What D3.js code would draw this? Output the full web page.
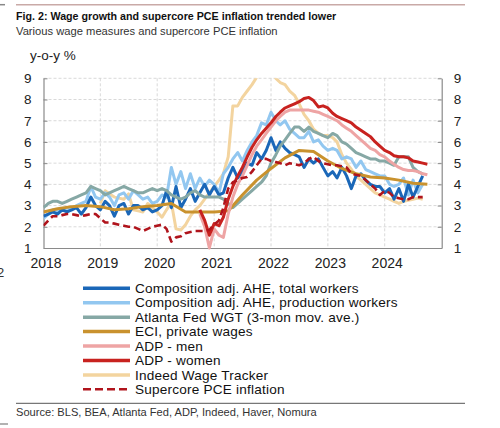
<!DOCTYPE html>
<html>
<head>
<meta charset="utf-8">
<script src="https://cdn.jsdelivr.net/npm/d3@7"></script>
<style>
  body { margin: 0; background: #fff; }
  svg { display: block; font-family: Arial, "Liberation Sans", sans-serif; }
</style>
</head>
<body>
<div id="chart"></div>
<script>
"use strict";

// monthly, Jan 2018 - Sep 2024
var aheTotal = [
	2.5, 2.6, 2.7, 2.6, 2.8, 2.7, 2.8, 2.9, 2.6, 2.9, 3.4, 3.0,
	2.8, 3.2, 3.0, 2.5, 3.0, 3.1, 2.6, 3.0, 3.0, 2.8, 2.9, 2.7,
	2.8, 3.0, 3.7, 2.9, 3.9, 2.9, 3.3, 3.8, 3.2, 3.6, 4.0, 3.5,
	3.9, 3.5, 3.6, 4.3, 4.8, 4.3, 4.6, 5.0, 4.9, 5.5, 5.2, 5.6,
	6.2, 5.6, 6.0, 5.7, 5.5, 5.4, 5.3, 4.8, 5.2, 5.0, 5.2, 4.8,
	4.4, 4.6, 4.3, 4.8, 4.4, 3.8, 4.4, 4.5, 4.2, 4.0, 3.9, 3.9,
	3.6, 3.8, 3.3, 3.8, 3.2, 4.0, 3.4, 3.9, 4.4
];
var aheProd = [
	2.4, 2.6, 2.8, 2.7, 2.8, 2.9, 2.8, 3.0, 3.1, 3.2, 3.9, 3.4,
	3.3, 3.6, 3.4, 3.0, 3.5, 3.6, 3.3, 3.7, 3.5, 3.3, 3.4, 3.1,
	3.2, 3.5, 3.4, 4.8, 4.0, 4.6, 3.8, 4.5, 3.8, 4.3, 3.9, 4.2,
	4.0, 3.6, 4.5, 4.8, 5.2, 5.5, 5.1, 5.6, 6.0, 6.3, 6.9, 6.8,
	7.4, 7.0, 6.8, 7.0, 6.6, 6.4, 6.2, 6.2, 6.5, 6.0, 6.1, 5.8,
	5.6, 5.7, 5.6, 5.2, 5.3, 5.2, 4.8, 5.1, 4.7, 4.6, 4.5, 4.4,
	4.4, 4.0, 3.9, 4.0, 4.3, 3.5, 4.2, 3.6, 4.0
];
var atlantaWgt = [
	2.9, 3.1, 3.2, 3.2, 3.1, 3.2, 3.3, 3.4, 3.5, 3.6, 3.9, 3.8,
	3.7, 3.5, 3.6, 3.7, 3.8, 3.9, 3.8, 3.7, 3.6, 3.6, 3.7, 3.8,
	3.7, 3.8, 3.7, 3.5, 3.4, 3.3, 3.4, 3.6, 3.7, 3.5, 3.4, 3.4,
	3.4, 3.4, 3.3, 3.1, 2.9, 3.1, 3.3, 3.5, 3.7, 3.9, 4.1, 4.4,
	5.0, 5.4, 5.8, 6.1, 6.4, 6.7, 6.7, 6.5, 6.7, 6.5, 6.4, 6.3,
	6.2, 6.4, 6.3, 6.0, 5.9, 5.7, 5.5, 5.4, 5.3, 5.2, 5.2, 5.1,
	5.1, 5.0, 4.9, 5.3, 5.3, 5.3, 4.8, 4.6, 4.5
];
// quarterly, Jan 2018 - Oct 2024
var eciPrivate = [
	2.7, 2.85, 2.95, 3.0, 2.95, 2.8, 2.85, 2.95,
	3.0, 3.1, 2.7, 2.7, 2.7, 2.75, 3.5, 4.2,
	4.75, 5.25, 5.6, 5.55, 5.1, 4.75, 4.5, 4.35,
	4.3, 4.2, 4.05, 4.0
];
// monthly, Oct 2020 - Oct 2024
var adpMen = [
	2.6, 2.0, 1.0,
	1.9, 1.6, 1.5, 2.6, 3.4, 4.0, 4.4, 4.9, 5.4, 5.8, 6.1, 6.4,
	6.7, 7.0, 7.2, 7.4, 7.5, 7.5, 7.5, 7.5, 7.5, 7.45, 7.4, 7.3,
	7.2, 7.1, 7.0, 6.8, 6.65, 6.5, 6.3, 6.1, 5.9, 5.7, 5.6, 5.4,
	5.3, 5.1, 4.95, 4.8, 4.7, 4.65, 4.65, 4.6, 4.5, 4.45
];
var adpWomen = [
	2.8, 2.3, 1.6,
	2.15, 2.05, 2.45, 3.3, 3.9, 4.4, 4.8, 5.3, 5.75, 6.1, 6.4, 6.65,
	6.9, 7.2, 7.4, 7.6, 7.7, 7.8, 7.9, 8.05, 8.1, 7.95, 7.65, 7.7,
	7.6, 7.35, 7.2, 7.1, 7.0, 6.9, 6.7, 6.55, 6.4, 6.25, 6.0, 5.8,
	5.6, 5.5, 5.35, 5.3, 5.3, 5.25, 5.1, 5.05, 5.0, 4.95
];
// monthly, Jan 2019 - Sep 2024
var indeedTracker = [
	3.1, 3.7, 3.55, 3.4, 3.35, 3.3, 3.55, 2.8, 2.75, 2.7, 3.1, 2.9,
	2.7, 2.45, 2.8, 3.15, 1.9, 1.85, 2.1, 2.5, 2.8, 3.0, 3.3, 3.6,
	3.9, 4.2, 4.5, 5.3, 7.7, 7.7, 8.1, 8.4, 8.7, 9.05, 9.4, 9.5,
	9.3, 9.0, 8.8, 8.7, 8.4, 8.2, 7.8, 7.3, 7.0, 6.6, 6.4, 6.3,
	6.3, 6.2, 6.0, 5.4, 5.0, 4.7, 4.4, 4.2, 4.0, 3.8, 3.6, 3.5,
	3.4, 3.3, 3.2, 3.1, 3.2, 3.25, 3.3, 3.35, 3.3
];
// monthly, Jan 2018 - Sep 2024
var supercorePce = [
	2.05, 2.3, 2.5, 2.5, 2.55, 2.6, 2.6, 2.55, 2.5, 2.55, 2.6, 2.6,
	2.4, 2.2, 2.2, 2.15, 2.1, 2.05, 2.0, 2.0, 1.9, 1.8, 1.9, 2.0,
	2.05, 2.1, 1.9, 1.3, 1.5, 1.55, 1.7, 1.75, 1.8, 1.8, 1.8, 1.85,
	2.1, 2.3, 2.9, 3.8, 4.1, 4.2, 4.3, 4.35, 4.6, 4.9, 5.2, 5.2,
	5.1, 5.05, 5.0, 4.9, 5.0, 4.95, 4.9, 5.0, 5.2, 5.3, 5.1, 5.0,
	4.95, 4.9, 4.9, 4.85, 4.8, 4.5, 4.45, 4.4, 4.2, 4.0, 3.8, 3.5,
	3.7, 3.6, 3.4, 3.35, 3.3, 3.3, 3.4, 3.4, 3.4
];

var yearTicks = [2018, 2019, 2020, 2021, 2022, 2023, 2024];
var valueTicks = [1, 2, 3, 4, 5, 6, 7, 8, 9];

// legend order, start month and step in months
var series = [
	{ name: "Composition adj. AHE, total workers", values: aheTotal, start: [2018, 0], step: 1, color: "#1a67b8" },
	{ name: "Composition adj. AHE, production workers", values: aheProd, start: [2018, 0], step: 1, color: "#92c7f0" },
	{ name: "Atlanta Fed WGT (3-mon mov. ave.)", values: atlantaWgt, start: [2018, 0], step: 1, color: "#86a8a5" },
	{ name: "ECI, private wages", values: eciPrivate, start: [2018, 0], step: 3, color: "#c9922e" },
	{ name: "ADP - men", values: adpMen, start: [2020, 9], step: 1, color: "#eea4a4" },
	{ name: "ADP - women", values: adpWomen, start: [2020, 9], step: 1, color: "#c8221f" },
	{ name: "Indeed Wage Tracker", values: indeedTracker, start: [2019, 0], step: 1, color: "#f3d49f" },
	{ name: "Supercore PCE inflation", values: supercorePce, start: [2018, 0], step: 1, color: "#b0141c", dash: "7,4" }
];

// drawing order (back to front)
var drawOrder = [6, 1, 0, 2, 3, 4, 5, 7];

var svg = d3.select("#chart").append("svg")
	.attr("width", 500).attr("height", 428);

var plotLeft = 43.5, plotRight = 441.7, plotTop = 78.3, plotBottom = 248;

var x = d3.scaleTime()
	.domain([new Date(2018, 0, 1), new Date(2025, 0, 1)])
	.range([plotLeft, plotRight]);
var y = d3.scaleLinear().domain([1, 9]).range([plotBottom, plotTop]);

// header / footer rules
svg.append("line").attr("x1", 16).attr("x2", 465).attr("y1", 4.7).attr("y2", 4.7)
	.attr("stroke", "#c9aaa7").attr("stroke-width", 1.5);
svg.append("line").attr("x1", 0).attr("x2", 5).attr("y1", 4.7).attr("y2", 4.7)
	.attr("stroke", "#888").attr("stroke-width", 1.5);
svg.append("line").attr("x1", 16).attr("x2", 465).attr("y1", 403.3).attr("y2", 403.3)
	.attr("stroke", "#555").attr("stroke-width", 1);
svg.append("line").attr("x1", 0).attr("x2", 8).attr("y1", 424).attr("y2", 424)
	.attr("stroke", "#999").attr("stroke-width", 1.5);

svg.append("text").attr("x", 16).attr("y", 20)
	.style("font-size", "10.7px").style("font-weight", "bold").attr("fill", "#111")
	.text("Fig. 2: Wage growth and supercore PCE inflation trended lower");
svg.append("text").attr("x", 16).attr("y", 35)
	.style("font-size", "11.2px").attr("fill", "#333")
	.text("Various wage measures and supercore PCE inflation");
svg.append("text").attr("x", 30).attr("y", 60)
	.style("font-size", "13.5px").attr("fill", "#222")
	.text("y-o-y %");
svg.append("text").attr("x", 16).attr("y", 415.5)
	.style("font-size", "11.1px").attr("fill", "#333")
	.text("Source: BLS, BEA, Atlanta Fed, ADP, Indeed, Haver, Nomura");
// cut-off fragment at the left edge
svg.append("text").attr("x", -3).attr("y", 277)
	.style("font-size", "13px").attr("fill", "#333").text("2");

// grid
var grid = svg.append("g").attr("stroke", "#cfcfcf").attr("stroke-dasharray", "3,2").attr("stroke-width", 0.8);
grid.selectAll(".hg").data(valueTicks.slice(1))
	.enter().append("line")
	.attr("x1", plotLeft).attr("x2", plotRight)
	.attr("y1", function(d) { return y(d); }).attr("y2", function(d) { return y(d); });
grid.selectAll(".vg").data(yearTicks.slice(1))
	.enter().append("line")
	.attr("y1", plotTop).attr("y2", plotBottom)
	.attr("x1", function(d) { return x(new Date(d, 0, 1)); })
	.attr("x2", function(d) { return x(new Date(d, 0, 1)); });

// axes
function styleAxis(g) {
	g.select(".domain").attr("stroke", "#8a8a8a").attr("stroke-width", 1.2);
	g.selectAll(".tick line").attr("stroke", "#8a8a8a");
	g.selectAll(".tick text").attr("fill", "#222")
		.style("font-family", "Arial, 'Liberation Sans', sans-serif");
}

svg.append("g")
	.attr("transform", "translate(" + plotLeft + ",0)")
	.call(d3.axisLeft(y).tickValues(valueTicks).tickSize(-4).tickSizeOuter(0).tickPadding(12).tickFormat(d3.format("d")))
	.call(styleAxis)
	.selectAll(".tick text").style("font-size", "13.5px");

svg.append("g")
	.attr("transform", "translate(" + plotRight + ",0)")
	.call(d3.axisRight(y).tickValues(valueTicks).tickSize(-4).tickSizeOuter(0).tickPadding(12).tickFormat(d3.format("d")))
	.call(styleAxis)
	.selectAll(".tick text").style("font-size", "13.5px");

svg.append("g")
	.attr("transform", "translate(0," + plotBottom + ")")
	.call(d3.axisBottom(x)
		.tickValues(yearTicks.map(function(d) { return new Date(d, 0, 1); }))
		.tickSize(0).tickSizeOuter(0).tickPadding(10)
		.tickFormat(d3.timeFormat("%Y")))
	.call(styleAxis)
	.selectAll(".tick text").style("font-size", "14px").attr("dx", 2);

// lines
svg.append("clipPath").attr("id", "plot-clip")
	.append("rect").attr("x", plotLeft).attr("y", plotTop)
	.attr("width", plotRight - plotLeft).attr("height", plotBottom - plotTop + 4);

var line = d3.line()
	.x(function(d) { return x(d.date); })
	.y(function(d) { return y(d.value); });

function toPoints(s) {
	return s.values.map(function(v, i) {
		return { date: new Date(s.start[0], s.start[1] + i * s.step, 1), value: v };
	});
}

var plot = svg.append("g").attr("clip-path", "url(#plot-clip)");
drawOrder.forEach(function(k) {
	var s = series[k];
	plot.append("path")
		.attr("d", line(toPoints(s)))
		.attr("fill", "none")
		.attr("stroke", s.color)
		.attr("stroke-width", s.dash ? 2.6 : 3)
		.attr("stroke-linejoin", "round")
		.attr("stroke-dasharray", s.dash || null);
});

// legend
var legend = svg.append("g");
var item = legend.selectAll(".item").data(series)
	.enter().append("g")
	.attr("transform", function(d, i) { return "translate(0," + (288.3 + i * 14.43) + ")"; });
item.append("line")
	.attr("x1", 83).attr("x2", 130)
	.attr("stroke", function(d) { return d.color; })
	.attr("stroke-width", function(d) { return d.dash ? 2.6 : 3.5; })
	.attr("stroke-dasharray", function(d) { return d.dash ? "8,4" : null; });
item.append("text")
	.attr("x", 135).attr("dy", "0.35em")
	.style("font-size", "13.6px").style("letter-spacing", "0.2px").attr("fill", "#111")
	.text(function(d) { return d.name; });
</script>
</body>
</html>
